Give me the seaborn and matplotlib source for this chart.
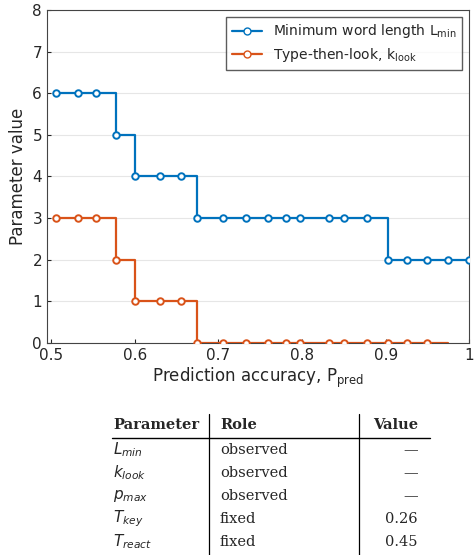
import matplotlib
matplotlib.use("Agg")
import matplotlib.pyplot as plt
import seaborn as sns
import pandas as pd

x = [0.506, 0.532, 0.554, 0.577, 0.600, 0.630, 0.655, 0.675, 0.706, 0.733, 0.759,
     0.781, 0.798, 0.832, 0.850, 0.878, 0.903, 0.925, 0.949, 0.975, 1.0]
lmin = [6, 6, 6, 5, 4, 4, 4, 3, 3, 3, 3, 3, 3, 3, 3, 3, 2, 2, 2, 2, 2]
klook = [3, 3, 3, 2, 1, 1, 1, 0, 0, 0, 0, 0, 0, 0, 0, 0, 0, 0, 0, 0]

tab_params = [r"$L_{min}$", r"$k_{look}$", r"$p_{max}$", r"$T_{key}$", r"$T_{react}$"]
tab_roles = ["observed", "observed", "observed", "fixed", "fixed"]
tab_values = ["—", "—", "—", "0.26", "0.45"]

sns.set_style("white")
plt.rcParams['font.family'] = ['DejaVu Sans']
fig = plt.figure(figsize=(4.74, 5.55), dpi=100)
ax = fig.add_axes([0.099, 0.382, 0.891, 0.600])

blue = "#0072BD"
orange = "#D95319"
df1 = pd.DataFrame({"x": x, "y": lmin})
df2 = pd.DataFrame({"x": x[:len(klook)], "y": klook})
ax.step(df1.x, df1.y, where="post", color=blue, lw=1.6, zorder=3)
ax.step(df2.x, df2.y, where="post", color=orange, lw=1.6, zorder=3)
sns.scatterplot(data=df1, x="x", y="y", ax=ax, marker="o", s=22, facecolor="white",
                edgecolor=blue, linewidth=1.4, zorder=4)
sns.scatterplot(data=df2.iloc[:-1], x="x", y="y", ax=ax, marker="o", s=22, facecolor="white",
                edgecolor=orange, linewidth=1.4, zorder=4)
from matplotlib.lines import Line2D
h = [Line2D([], [], color=blue, lw=1.6, marker="o", mfc="white", mec=blue, ms=5),
     Line2D([], [], color=orange, lw=1.6, marker="o", mfc="white", mec=orange, ms=5)]
ax.legend(h, [r"Minimum word length L$_{\mathrm{min}}$", r"Type-then-look, k$_{\mathrm{look}}$"],
          loc="upper right", fontsize=10, frameon=True, fancybox=False, edgecolor="#333333",
          handlelength=2.2, borderpad=0.4, labelspacing=0.4)
ax.set_xlim(0.495, 1.0)
ax.set_ylim(0, 8)
ax.set_xticks([0.5, 0.6, 0.7, 0.8, 0.9, 1.0])
ax.set_xticklabels(["0.5", "0.6", "0.7", "0.8", "0.9", "1"])
ax.set_yticks(range(9))
ax.grid(axis="y", color="#e6e6e6", lw=0.8)
ax.tick_params(labelsize=11, direction="in", length=3, left=True, bottom=True)
for s in ax.spines.values():
    s.set_color("#444444"); s.set_linewidth(0.8)
ax.set_xlabel(r"Prediction accuracy, P$_{\mathrm{pred}}$", fontsize=12, labelpad=2)
ax.set_ylabel("Parameter value", fontsize=12, labelpad=4)

W, H = 474, 555
def fx(px): return px / W
def fy(py): return 1 - py / H
serif = "DejaVu Serif"
fig.text(fx(113), fy(425), "Parameter", fontsize=10.5, weight="bold", family=serif, va="center")
fig.text(fx(220), fy(425), "Role", fontsize=10.5, weight="bold", family=serif, va="center")
fig.text(fx(418), fy(425), "Value", fontsize=10.5, weight="bold", family=serif, va="center", ha="right")
fig.add_artist(Line2D([fx(112), fx(430)], [fy(438), fy(438)], color="black", lw=1.0))
for xv in (209, 359):
    fig.add_artist(Line2D([fx(xv), fx(xv)], [fy(414), fy(555)], color="black", lw=0.9))
rows_y = [450, 473, 496, 519, 542]
for yy, p, r, v in zip(rows_y, tab_params, tab_roles, tab_values):
    fig.text(fx(113), fy(yy), p, fontsize=11, family=serif, va="center")
    fig.text(fx(220), fy(yy), r, fontsize=10.5, family=serif, va="center")
    fig.text(fx(418), fy(yy), v, fontsize=10.5, family=serif, va="center", ha="right")

fig.savefig("out.png", dpi=100)
